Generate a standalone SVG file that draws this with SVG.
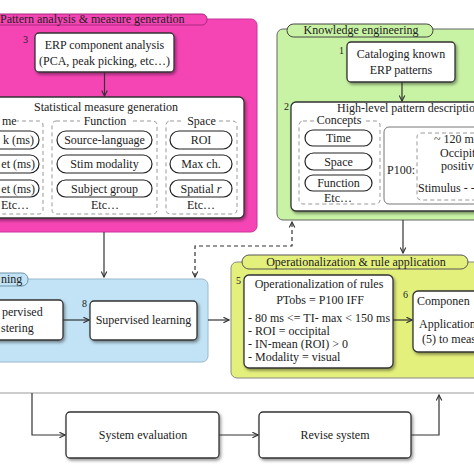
<svg xmlns="http://www.w3.org/2000/svg" width="474" height="474" viewBox="0 0 474 474">
<defs>
<filter id="sh" x="-10%" y="-10%" width="130%" height="140%">
<feDropShadow dx="1.5" dy="2" stdDeviation="1.5" flood-color="#000" flood-opacity="0.4"/>
</filter>
<marker id="ah" viewBox="0 0 10 10" refX="9" refY="5" markerWidth="7" markerHeight="7" markerUnits="userSpaceOnUse" orient="auto-start-reverse">
<path d="M1,1 L9,5 L1,9" fill="none" stroke="#333" stroke-width="1.6"/>
</marker>
<style>
text{font-family:"Liberation Serif","Times New Roman",serif;font-size:12px;fill:#222}
.c{text-anchor:middle}
.e{text-anchor:end}
.n{font-size:10px}
.box{fill:#fff;stroke:#333;stroke-width:1.3;filter:url(#sh)}
.pill{fill:#fff;stroke:#222;stroke-width:1.2}
.grp{fill:none;stroke:#999;stroke-width:1;stroke-dasharray:4 3}
.lbl{fill:#fff}
.con{fill:none;stroke:#333;stroke-width:1.2}
.dash{stroke-dasharray:4 3}
</style>
</defs>

<g id="panel-pattern">
<rect x="-10" y="19" width="267" height="213" rx="6" fill="#F545B5" stroke="#C8359A" stroke-width="1"/>
<rect x="-10" y="14" width="217" height="11" rx="5" fill="#F545B5" stroke="#A82A7E" stroke-width="1"/>
<text x="0" y="23">Pattern analysis &amp; measure generation</text>
</g>

<g id="node-erp">
<text class="n" x="23" y="43">3</text>
<rect class="box" x="35" y="33" width="139" height="39" rx="4"/>
<text class="c" x="104.5" y="49">ERP component analysis</text>
<text class="c" x="104.5" y="65">(PCA, peak picking, etc…)</text>
</g>

<g id="node-stat">
<rect class="box" x="-10" y="97" width="254" height="121" rx="5"/>
<text class="c" x="106" y="111">Statistical measure generation</text>
<rect class="grp" x="-10" y="121" width="53" height="93" rx="4"/>
<rect class="lbl" x="1" y="116" width="16" height="10"/>
<text x="2" y="125">me</text>
<rect class="pill" x="-10" y="131" width="49" height="18" rx="9"/>
<text class="e" x="34" y="144">k (ms)</text>
<rect class="pill" x="-10" y="155" width="49" height="18" rx="9"/>
<text class="e" x="35" y="168">et (ms)</text>
<rect class="pill" x="-10" y="180" width="49" height="17" rx="8.5"/>
<text class="e" x="35" y="193">et (ms)</text>
<text x="1" y="209">Etc…</text>
<rect class="grp" x="52" y="121" width="105" height="93" rx="4"/>
<rect class="lbl" x="80" y="116" width="50" height="10"/>
<text class="c" x="105" y="125">Function</text>
<rect class="pill" x="57" y="131" width="95" height="18" rx="9"/>
<text class="c" x="104.5" y="144">Source-language</text>
<rect class="pill" x="57" y="155" width="95" height="18" rx="9"/>
<text class="c" x="104.5" y="168">Stim modality</text>
<rect class="pill" x="57" y="180" width="95" height="17" rx="8.5"/>
<text class="c" x="104.5" y="193">Subject group</text>
<text class="c" x="105" y="209">Etc…</text>
<rect class="grp" x="166" y="121" width="71" height="93" rx="4"/>
<rect class="lbl" x="184" y="116" width="35" height="10"/>
<text class="c" x="201.5" y="125">Space</text>
<rect class="pill" x="170" y="131" width="62" height="18" rx="9"/>
<text class="c" x="201" y="144">ROI</text>
<rect class="pill" x="170" y="155" width="62" height="18" rx="9"/>
<text class="c" x="201" y="168">Max ch.</text>
<rect class="pill" x="170" y="180" width="62" height="17" rx="8.5"/>
<text class="c" x="201" y="193">Spatial <tspan font-style="italic">r</tspan></text>
<text class="c" x="201" y="209">Etc…</text>
</g>

<g id="panel-knowledge">
<rect x="277" y="29" width="215" height="191" rx="6" fill="#C8F3A4" stroke="#666" stroke-width="1"/>
<rect x="287" y="24" width="146" height="13" rx="6.5" fill="#C8F3A4" stroke="#444" stroke-width="1"/>
<text class="c" x="361" y="34">Knowledge engineering</text>
</g>

<g id="node-catalog">
<text class="n" x="339" y="54">1</text>
<rect class="box" x="347" y="42" width="108" height="40" rx="4"/>
<text class="c" x="401" y="58">Cataloging known</text>
<text class="c" x="401" y="74">ERP patterns</text>
</g>

<g id="node-highlevel">
<text class="n" x="284" y="110">2</text>
<rect class="box" x="291" y="102" width="200" height="109" rx="5"/>
<text x="337" y="112">High-level pattern descriptio</text>
<rect class="grp" x="299" y="121" width="81" height="83" rx="4"/>
<rect class="lbl" x="314" y="116" width="50" height="10"/>
<text class="c" x="339" y="124">Concepts</text>
<rect class="pill" x="305" y="130" width="67" height="16" rx="8"/>
<text class="c" x="338.5" y="142">Time</text>
<rect class="pill" x="305" y="153" width="67" height="17" rx="8.5"/>
<text class="c" x="338.5" y="166">Space</text>
<rect class="pill" x="305" y="175" width="67" height="16" rx="8"/>
<text class="c" x="338.5" y="187">Function</text>
<text class="c" x="338" y="202">Etc…</text>
<rect x="384" y="127" width="100" height="77" rx="5" fill="#fff" stroke="#777" stroke-width="1"/>
<text x="387" y="174">P100:</text>
<rect class="grp" x="417" y="133" width="70" height="67" rx="4"/>
<text x="434" y="143">~ 120 m</text>
<text x="440" y="157">Occipit</text>
<text x="441" y="170">positiv</text>
<text x="418" y="192">Stimulus - -</text>
</g>

<g id="panel-learning">
<rect x="-10" y="279" width="218" height="83" rx="6" fill="#C1E3F5" stroke="#9AB8CC" stroke-width="1"/>
<rect x="-10" y="273" width="38" height="13" rx="6" fill="#C1E3F5" stroke="#6F93AA" stroke-width="1"/>
<text x="1" y="283">ning</text>
</g>

<g id="node-unsup">
<rect class="box" x="-10" y="300" width="73" height="40" rx="4"/>
<text x="2" y="316">pervised</text>
<text x="1" y="332">stering</text>
</g>

<g id="node-sup">
<text class="n" x="82" y="307">8</text>
<rect class="box" x="90" y="301" width="107" height="39" rx="4"/>
<text class="c" x="143.5" y="324">Supervised learning</text>
</g>

<g id="panel-operational">
<rect x="231" y="262" width="260" height="116" rx="6" fill="#E4F07C" stroke="#888" stroke-width="1"/>
<rect x="242" y="255" width="226" height="14" rx="7" fill="#E4F07C" stroke="#555" stroke-width="1"/>
<text class="c" x="356" y="266">Operationalization &amp; rule application</text>
</g>

<g id="node-rules">
<text class="n" x="236" y="284">5</text>
<rect class="box" x="244" y="275" width="149" height="93" rx="5"/>
<text class="c" x="319" y="288">Operationalization of rules</text>
<text class="c" x="320" y="304">PTobs = P100 IFF</text>
<text x="248" y="322">- 80 ms &lt;= TI- max &lt; 150 ms</text>
<text x="248" y="335">- ROI = occipital</text>
<text x="248" y="348">- IN-mean (ROI) &gt; 0</text>
<text x="248" y="361">- Modality = visual</text>
</g>

<g id="node-component">
<text class="n" x="403" y="298">6</text>
<rect class="box" x="413" y="291" width="80" height="61" rx="5"/>
<text x="417" y="305">Componen</text>
<text x="419" y="328">Application</text>
<text x="422" y="343">(5) to meas</text>
</g>

<g id="node-eval">
<rect class="box" x="66" y="412" width="153" height="46" rx="4"/>
<text class="c" x="143" y="439" font-size="11.5">System evaluation</text>
</g>

<g id="node-revise">
<rect class="box" x="259" y="412" width="152" height="46" rx="4"/>
<text class="c" x="335" y="439" font-size="11.5">Revise system</text>
</g>

<g id="connectors">
<line class="con" x1="104.5" y1="72" x2="104.5" y2="96" marker-end="url(#ah)"/>
<line class="con" x1="402" y1="82" x2="402" y2="101" marker-end="url(#ah)"/>
<line class="con" x1="104" y1="232" x2="104" y2="277" marker-end="url(#ah)"/>
<path class="con dash" d="M195,277 L195,246 L292,246 L292,222" marker-start="url(#ah)" marker-end="url(#ah)"/>
<line class="con" x1="403" y1="220" x2="403" y2="253" marker-end="url(#ah)"/>
<line class="con" x1="63" y1="320" x2="89" y2="320" marker-end="url(#ah)"/>
<line class="con" x1="208" y1="320" x2="229" y2="320" marker-end="url(#ah)"/>
<line class="con" x1="393" y1="320" x2="412" y2="320" marker-end="url(#ah)"/>
<line x1="0" y1="393" x2="474" y2="393" stroke="#999" stroke-width="1"/>
<path class="con" d="M32,393 L32,435 L65,435" marker-end="url(#ah)"/>
<line class="con" x1="219" y1="435" x2="258" y2="435" marker-end="url(#ah)"/>
<path class="con" d="M411,435 L439,435 L439,395" marker-end="url(#ah)"/>
</g>
</svg>
